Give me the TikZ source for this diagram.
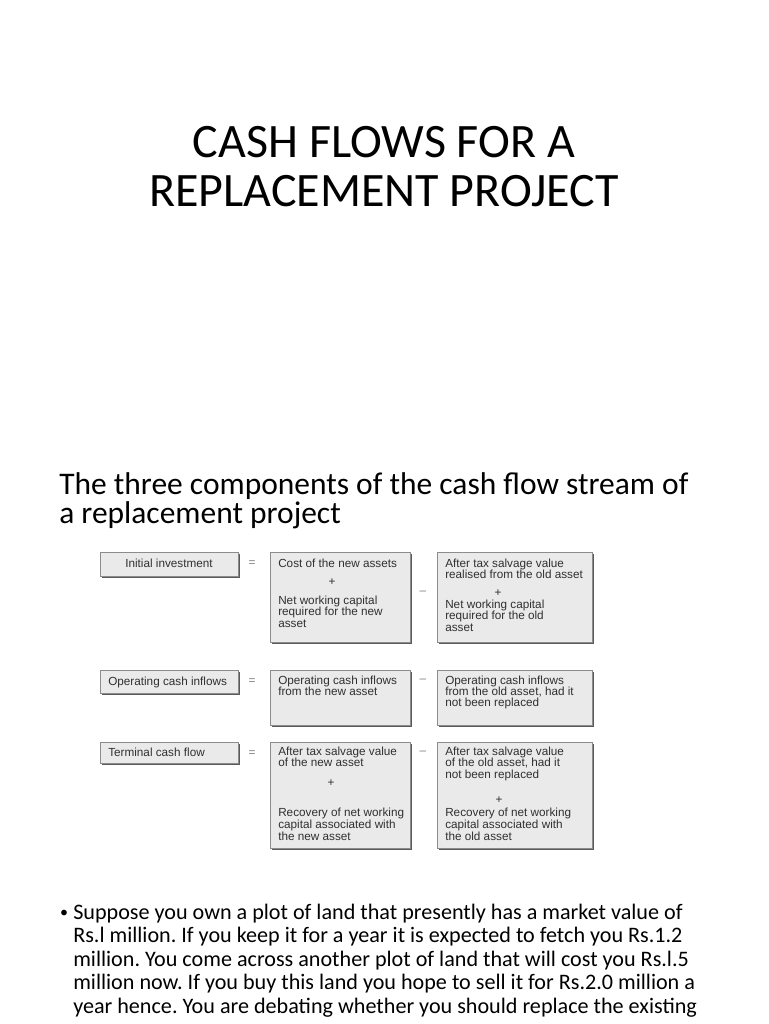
\documentclass[tikz,border=0pt]{standalone}
\usepackage{fontspec}
\setmainfont{Carlito}
\newfontfamily\arialf{Liberation Sans}
\usetikzlibrary{shadows}
\definecolor{boxfill}{HTML}{EAEAEA}
\definecolor{boxline}{HTML}{8C8C8C}
\definecolor{boxshadow}{HTML}{5A5A5A}
\definecolor{figtext}{HTML}{303030}
\frenchspacing
\begin{document}
\begin{tikzpicture}[x=0.75pt,y=-0.75pt,
  titletext/.style={font=\fontsize{36}{36}\selectfont, anchor=base, inner sep=0},
  subtext/.style={font=\fontsize{23.6}{24}\selectfont, anchor=base west, inner sep=0},
  bodytext/.style={font=\fontsize{16.6}{17}\selectfont, anchor=base west, inner sep=0},
  cfbox/.style={draw=boxline, line width=0.6pt, fill=boxfill, anchor=north west, inner sep=0, outer sep=0,
    drop shadow={shadow xshift=1.4pt, shadow yshift=-1.4pt, fill=boxshadow, opacity=1}},
  figtxt/.style={font=\arialf\fontsize{8.8}{9}\selectfont, text=figtext, anchor=base west, inner sep=0},
  figsym/.style={font=\arialf\fontsize{8.8}{9}\selectfont, text=figtext, anchor=base, inner sep=0},
  opsym/.style={font=\arialf\fontsize{8.8}{9}\selectfont, text=gray, anchor=center, inner sep=0}
]
\useasboundingbox (0,0) rectangle (768,1024);
\fill[white] (0,0) rectangle (768,1024);

% title
\node[titletext] (t1) at (384,157) {CASH FLOWS FOR A};
\node[titletext] (t2) at (384,206) {REPLACEMENT PROJECT};

% subtitle
\node[subtext] (s1) at (59,494) {The three components of the cash flow stream of};
\node[subtext] (s2) at (59,523) {a replacement project};

% boxes
\node[cfbox, minimum width=103.5pt, minimum height=18pt] (L1) at (100,552) {};
\node[cfbox, minimum width=105pt, minimum height=67.5pt] (M1) at (270,552) {};
\node[cfbox, minimum width=116.25pt, minimum height=67.5pt] (R1) at (437,552) {};

\node[cfbox, minimum width=103.5pt, minimum height=17.25pt] (L2) at (100,670) {};
\node[cfbox, minimum width=105pt, minimum height=41.25pt] (M2) at (270,670) {};
\node[cfbox, minimum width=116.25pt, minimum height=41.25pt] (R2) at (437,670) {};

\node[cfbox, minimum width=103.5pt, minimum height=15.75pt] (L3) at (100,742) {};
\node[cfbox, minimum width=105pt, minimum height=79.5pt] (M3) at (270,742) {};
\node[cfbox, minimum width=116.25pt, minimum height=79.5pt] (R3) at (437,742) {};

% operators
\node[opsym] (e1) at (252,564) {=};
\node[opsym] (e2) at (252,682) {=};
\node[opsym] (e3) at (252,754) {=};
\node[opsym] (d1) at (423,593) {\textendash};
\node[opsym] (d2) at (423,681) {\textendash};
\node[opsym] (d3) at (423,753) {\textendash};

% row 1 text
\node[figsym] (l1) at (169,567) {Initial investment};
\node[figtxt] (m1a) at (278,567) {Cost of the new assets};
\node[figsym] (m1p) at (332,585) {+};
\node[figtxt] (m1b) at (278,604) {Net working capital};
\node[figtxt] (m1c) at (278,615) {required for the new};
\node[figtxt] (m1d) at (278,627) {asset};
\node[figtxt] (r1a) at (445,567) {After tax salvage value};
\node[figtxt] (r1b) at (445,578) {realised from the old asset};
\node[figsym] (r1p) at (498,596) {+};
\node[figtxt] (r1c) at (445,608) {Net working capital};
\node[figtxt] (r1d) at (445,619) {required for the old};
\node[figtxt] (r1e) at (445,631) {asset};

% row 2 text
\node[figtxt] (l2) at (108,685) {Operating cash inflows};
\node[figtxt] (m2a) at (278,684) {Operating cash inflows};
\node[figtxt] (m2b) at (278,695) {from the new asset};
\node[figtxt] (r2a) at (445,684) {Operating cash inflows};
\node[figtxt] (r2b) at (445,695) {from the old asset, had it};
\node[figtxt] (r2c) at (445,706) {not been replaced};

% row 3 text
\node[figtxt] (l3) at (108,756) {Terminal cash flow};
\node[figtxt] (m3a) at (278,755) {After tax salvage value};
\node[figtxt] (m3b) at (278,766) {of the new asset};
\node[figsym] (m3p) at (331,786) {+};
\node[figtxt] (m3c) at (278,816) {Recovery of net working};
\node[figtxt] (m3d) at (278,828) {capital associated with};
\node[figtxt] (m3e) at (278,840) {the new asset};
\node[figtxt] (r3a) at (445,755) {After tax salvage value};
\node[figtxt] (r3b) at (445,766) {of the old asset, had it};
\node[figtxt] (r3c) at (445,778) {not been replaced};
\node[figsym] (r3p) at (499,803) {+};
\node[figtxt] (r3d) at (445,816) {Recovery of net working};
\node[figtxt] (r3e) at (445,828) {capital associated with};
\node[figtxt] (r3f) at (445,840) {the old asset};

% bullet text
\node[font=\fontsize{12}{12}\selectfont, anchor=base, inner sep=0] (bul) at (64,917) {\textbullet};
\node[bodytext] (b1) at (73,919) {Suppose you own a plot of land that presently has a market value of};
\node[bodytext] (b2) at (73,942.5) {Rs.l million. If you keep it for a year it is expected to fetch you Rs.1.2};
\node[bodytext] (b3) at (73,966) {million. You come across another plot of land that will cost you Rs.l.5};
\node[bodytext] (b4) at (73,989.5) {million now. If you buy this land you hope to sell it for Rs.2.0 million a};
\node[bodytext] (b5) at (73,1013) {year hence. You are debating whether you should replace the existing};
\end{tikzpicture}
\end{document}
